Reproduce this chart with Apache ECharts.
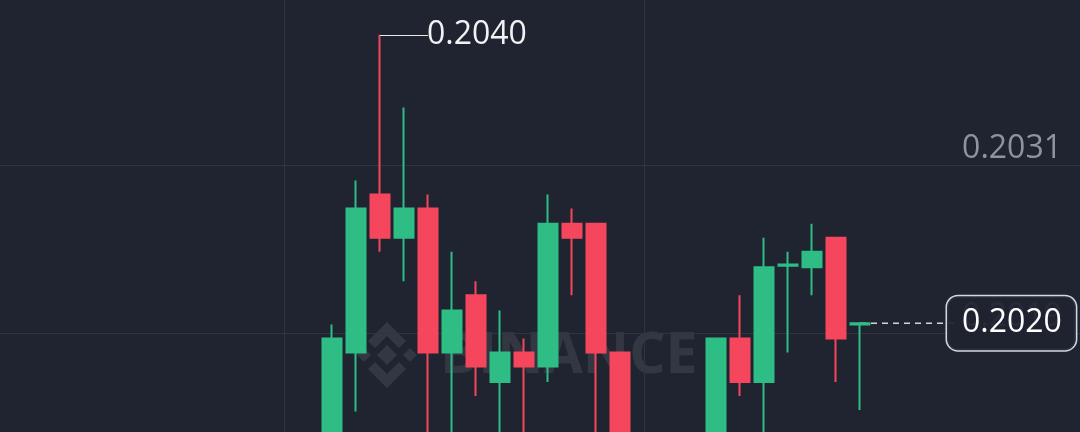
<!DOCTYPE html>
<html>
<head>
<meta charset="utf-8">
<style>
  html, body { margin: 0; padding: 0; background: #1f2430; }
  #chart { width: 1080px; height: 432px; }
</style>
<script src="https://cdn.jsdelivr.net/npm/echarts@6/dist/echarts.min.js"></script>
</head>
<body>
<div id="chart"></div>
<script>
// ---- data (prices) ----
const candleOpen  = [0.20118, 0.20176, 0.20289, 0.20258, 0.20279, 0.20176, 0.20217, 0.20155, 0.20176, 0.20166, 0.20268, 0.20268, 0.20176, 0.20108, 0.20100, 0.20110, 0.20104, 0.20186, 0.20155, 0.20238, 0.20237, 0.20258, 0.20196];
const candleClose = [0.20186, 0.20279, 0.20258, 0.20279, 0.20176, 0.20206, 0.20166, 0.20176, 0.20166, 0.20268, 0.20258, 0.20176, 0.20108, 0.20100, 0.20110, 0.20104, 0.20186, 0.20155, 0.20237, 0.20239, 0.20248, 0.20186, 0.20197];
const candleLow   = [0.20110, 0.20134, 0.20248, 0.20227, 0.20110, 0.20115, 0.20145, 0.20110, 0.20110, 0.20155, 0.20217, 0.20110, 0.20098, 0.20094, 0.20092, 0.20098, 0.20100, 0.20145, 0.20110, 0.20176, 0.20217, 0.20155, 0.20135];
const candleHigh  = [0.20196, 0.20299, 0.20403, 0.20351, 0.20289, 0.20248, 0.20227, 0.20206, 0.20186, 0.20289, 0.20279, 0.20268, 0.20176, 0.20116, 0.20114, 0.20118, 0.20186, 0.20217, 0.20258, 0.20248, 0.20268, 0.20258, 0.20197];
const emptyBefore = 17;   // empty time slots left of the first candle
const emptyAfter = 10;    // empty time slots right of the last candle
const verticalGridSlots = [15, 30];
const priceAxis = { min: 0.2007, max: 0.2043, interval: 0.0012 };

// ---- build ----
const total = emptyBefore + candleOpen.length + emptyAfter;
const categories = [];
for (let i = 0; i < total; i++) categories.push('t' + i);
const ohlc = categories.map((c, i) => {
  const k = i - emptyBefore;
  if (k < 0 || k >= candleOpen.length) return ['-', '-', '-', '-'];
  return [candleOpen[k], candleClose[k], candleLow[k], candleHigh[k]];
});
let maxK = 0;
candleHigh.forEach((h, k) => { if (h > candleHigh[maxK]) maxK = k; });
const maxIdx = emptyBefore + maxK;
const maxHigh = candleHigh[maxK];
const lastIdx = emptyBefore + candleOpen.length - 1;
const lastClose = candleClose[candleClose.length - 1];

const FONT = '"Open Sans", "Noto Sans", sans-serif';
const UP = '#2ebd85', DOWN = '#f6465d';

const chart = echarts.init(document.getElementById('chart'), null, { renderer: 'canvas' });
chart.setOption({
  backgroundColor: '#1f2430',
  animation: false,
  grid: { left: -76, top: -3, width: 1176, height: 504, outerBoundsMode: 'none', containLabel: false },
  xAxis: {
    type: 'category',
    data: categories,
    boundaryGap: false,
    axisLine: { show: false },
    axisTick: { show: false },
    axisLabel: { show: false },
    splitLine: {
      show: true,
      interval: (idx) => verticalGridSlots.indexOf(idx) >= 0,
      lineStyle: { color: '#2f3441', width: 1 }
    }
  },
  yAxis: {
    type: 'value',
    position: 'right',
    min: priceAxis.min,
    max: priceAxis.max,
    interval: priceAxis.interval,
    axisLine: { show: false },
    axisTick: { show: false },
    splitLine: { show: true, lineStyle: { color: '#2f3441', width: 1 } },
    axisLabel: {
      inside: true,
      margin: 38,
      color: '#8d93a0',
      fontSize: 32,
      fontFamily: FONT,
      verticalAlign: 'bottom',
      lineHeight: 32,
      showMinLabel: false,
      showMaxLabel: false,
      formatter: (v) => v.toFixed(4)
    }
  },
  graphic: [
    {
      type: 'group', left: 357, top: 322, z: 0, silent: true,
      children: [
        { type: 'polygon', shape: { points: [[33, 23], [43, 33], [33, 43], [23, 33]] }, style: { fill: 'rgba(255,255,255,0.09)' } },
        { type: 'polygon', shape: { points: [[10, 26], [17, 33], [10, 40], [3, 33]] }, style: { fill: 'rgba(255,255,255,0.09)' } },
        { type: 'polygon', shape: { points: [[56, 26], [63, 33], [56, 40], [49, 33]] }, style: { fill: 'rgba(255,255,255,0.09)' } },
        { type: 'polygon', shape: { points: [[33, 0], [52, 19], [45, 26], [33, 14], [21, 26], [14, 19]] }, style: { fill: 'rgba(255,255,255,0.09)' } },
        { type: 'polygon', shape: { points: [[33, 66], [52, 47], [45, 40], [33, 52], [21, 40], [14, 47]] }, style: { fill: 'rgba(255,255,255,0.09)' } }
      ]
    },
    {
      type: 'text', left: 440, top: 328, z: 0, silent: true,
      style: { text: 'BINANCE', font: 'bold 57px "Open Sans", sans-serif', fill: 'rgba(255,255,255,0.09)' }
    }
  ],
  series: [
    {
      type: 'line',
      z: 1,
      data: [[categories[lastIdx], lastClose], [categories[lastIdx + 4], lastClose]],
      showSymbol: false,
      symbol: 'none',
      silent: true,
      lineStyle: { color: '#d0d4da', width: 1.5, type: [6, 5] },
      endLabel: {
        show: true,
        distance: -9,
        formatter: (p) => p.value[1].toFixed(4),
        color: '#ffffff',
        fontSize: 32,
        fontFamily: FONT,
        lineHeight: 34,
        backgroundColor: 'rgba(31,36,48,0.93)',
        borderColor: '#d4d7dc',
        borderWidth: 1.5,
        borderRadius: 11,
        padding: [10, 14, 10, 15]
      }
    },
    {
      type: 'candlestick',
      z: 3,
      data: ohlc,
      barWidth: 19,
      itemStyle: {
        color: UP, color0: DOWN,
        borderColor: UP, borderColor0: DOWN,
        borderWidth: 2
      },
      markLine: {
        silent: true,
        symbol: ['none', 'none'],
        lineStyle: { color: '#e6e8ea', width: 1, type: 'solid' },
        label: {
          show: true,
          position: 'end',
          distance: -1,
          color: '#f2f2f2',
          fontSize: 32,
          fontFamily: FONT,
          padding: [3, 0, 0, 0],
          formatter: () => maxHigh.toFixed(4)
        },
        data: [[{ coord: [categories[maxIdx], maxHigh] }, { coord: [categories[maxIdx + 2], maxHigh] }]]
      }
    }
  ]
});
</script>
</body>
</html>
